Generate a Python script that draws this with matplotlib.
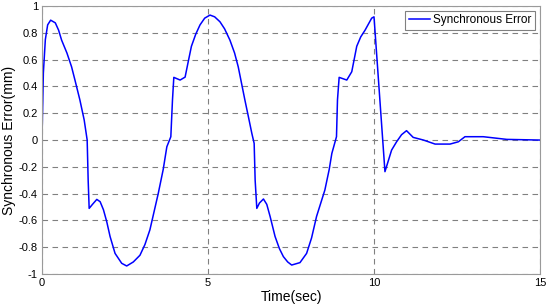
import matplotlib
matplotlib.use('Agg')
import matplotlib.pyplot as plt

plt.rcParams['font.family'] = ['Liberation Sans', 'DejaVu Sans']

t = [0.0, 0.04, 0.1, 0.17, 0.26, 0.4, 0.5, 0.59, 0.75, 0.89, 1.0, 1.14, 1.27, 1.36, 1.39,
     1.42, 1.52, 1.65, 1.75, 1.85, 1.95, 2.05, 2.2, 2.4, 2.55, 2.75, 2.95, 3.1, 3.25, 3.5,
     3.65, 3.76, 3.88, 3.93, 3.97, 4.16, 4.31, 4.4, 4.5, 4.63, 4.76, 4.9, 5.06, 5.2, 5.36,
     5.5, 5.66, 5.8, 5.91, 6.11, 6.22, 6.32, 6.39, 6.42, 6.47, 6.55, 6.67, 6.77, 6.87,
     7.02, 7.15, 7.27, 7.4, 7.52, 7.77, 7.97, 8.12, 8.27, 8.52, 8.65, 8.73, 8.87, 8.9,
     8.95, 9.18, 9.33, 9.48, 9.6, 9.73, 9.93, 10.0, 10.33, 10.53, 10.68, 10.83, 10.98,
     11.18, 11.49, 11.84, 12.29, 12.54, 12.74, 13.29, 14.0, 15.0]
err = [0.02, 0.5, 0.75, 0.86, 0.895, 0.875, 0.82, 0.746, 0.65, 0.547, 0.44, 0.30, 0.15, 0.0, -0.3,
       -0.51, -0.48, -0.443, -0.46, -0.52, -0.61, -0.72, -0.846, -0.92, -0.94, -0.91, -0.86, -0.78, -0.67, -0.40,
       -0.22, -0.05, 0.025, 0.3, 0.468, 0.448, 0.47, 0.58, 0.70, 0.79, 0.86, 0.91, 0.933, 0.92, 0.883,
       0.83, 0.746, 0.65, 0.547, 0.30, 0.17, 0.05, -0.025, -0.3, -0.51, -0.47, -0.44, -0.48, -0.57,
       -0.72, -0.81, -0.87, -0.91, -0.933, -0.915, -0.846, -0.73, -0.57, -0.373, -0.22, -0.10, 0.025, 0.3,
       0.468, 0.448, 0.51, 0.70, 0.77, 0.82, 0.91, 0.92, -0.236, -0.075, -0.013, 0.04, 0.07,
       0.02, 0.0, -0.03, -0.03, -0.013, 0.025, 0.025, 0.005, 0.0]

fig = plt.figure(figsize=(5.5, 3.05), dpi=100)
ax = fig.add_axes([0.0764, 0.1016, 0.9054, 0.8784])
ax.plot(t, err, color='blue', lw=1.1, label='Synchronous Error')

ax.set_xlim(0, 15)
ax.set_ylim(-1, 1)
ax.set_xticks([0, 5, 10, 15])
ax.set_yticks([-1, -0.8, -0.6, -0.4, -0.2, 0, 0.2, 0.4, 0.6, 0.8, 1])
ax.set_yticklabels(['-1', '-0.8', '-0.6', '-0.4', '-0.2', '0', '0.2', '0.4', '0.6', '0.8', '1'])
ax.tick_params(length=0, labelsize=8, pad=3)
ax.grid(True, ls=(0, (5, 4)), color='#808080', lw=0.8)
for s in ax.spines.values():
    s.set_color('#9a9a9a')

ax.set_xlabel('Time(sec)', fontsize=10, labelpad=1)
ax.set_ylabel('Synchronous Error(mm)', fontsize=10, labelpad=2)
leg = ax.legend(loc='upper right', fontsize=8.5, fancybox=False, handlelength=1.8,
                handletextpad=0.3, borderpad=0.3, borderaxespad=0.4)
leg.get_frame().set_edgecolor('#808080')
leg.get_frame().set_linewidth(0.8)
leg.get_frame().set_alpha(1)

fig.savefig('out.png', dpi=100)
